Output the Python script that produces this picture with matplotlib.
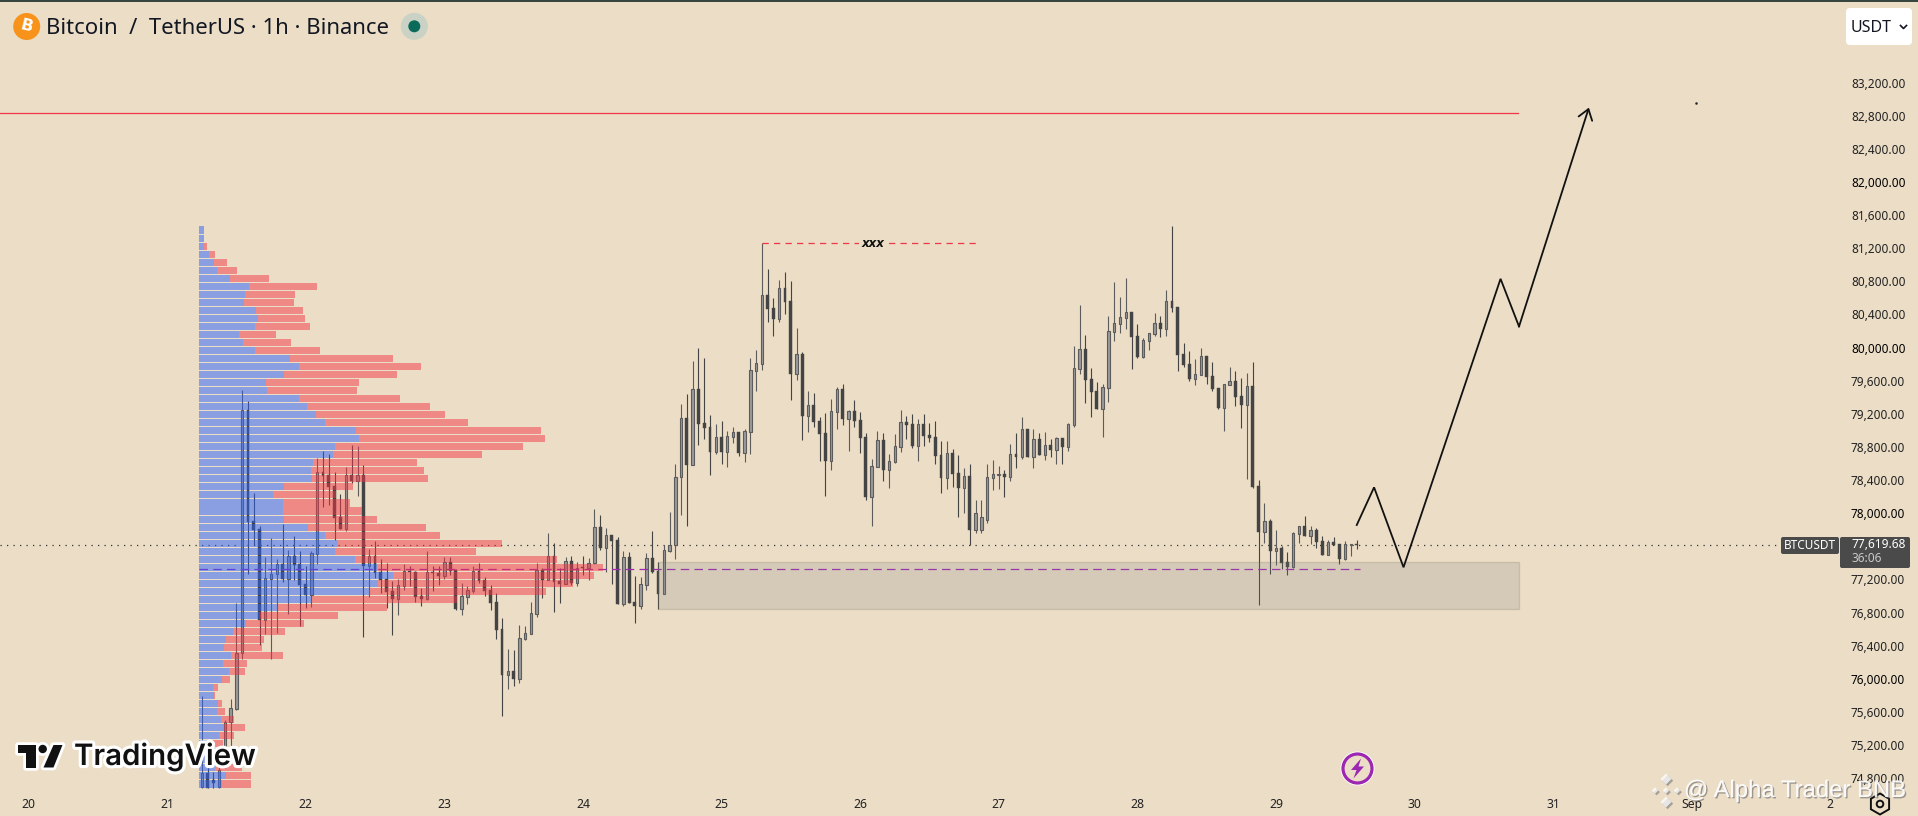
import numpy as np
import matplotlib
matplotlib.use("Agg")
import matplotlib.pyplot as plt
import matplotlib.patheffects as pe
from matplotlib.patches import Circle, Polygon, Rectangle, FancyBboxPatch, RegularPolygon

# ---------- data ----------
first_hour = 30  # hours after Aug 20 00:00
opens = [
74696,74857,74776,74696,74978,75473,75634,76307,79246,77905,
77809,76709,77205,77261,77382,77205,77482,77382,77144,77011,
77507,78497,78461,78328,77950,77809,78461,78389,78461,77366,
77482,77293,77201,77060,76967,77120,77305,77289,76999,76967,
77289,77273,77241,77410,77313,76846,76991,77064,77297,77193,
77072,76927,76601,76049,76089,76000,76484,76544,76786,77317,
77193,77482,77180,77144,77422,77160,77350,77337,77394,77829,
77583,77736,77676,76903,77466,76927,76878,77136,77458,77301,
77023,77543,77611,78433,79146,78582,79496,79085,79037,78739,
78916,78739,78920,78980,78731,78985,79717,79806,80636,80479,
80346,80716,80563,79681,79919,79178,79303,79113,78964,78630,
79226,79496,79138,79230,79121,78916,78199,78562,78880,78525,
78618,78799,79101,79073,78811,79073,78944,78916,78703,78425,
78723,78481,78304,78445,77797,77797,77917,78429,78461,78469,
78441,78715,78683,79013,78678,78896,78703,78823,78767,78904,
78799,79065,79742,79979,79617,79472,79258,79516,80193,80289,
80362,80426,80140,79887,80084,80164,80297,80229,80563,80491,
79923,79802,79621,79673,79899,79657,79512,79274,79552,79593,
79415,79307,79536,78328,77776,77901,77547,77575,77406,77350,
77752,77841,77728,77793,77660,77499,77652,77627,77446,77615,77627]
highs = [
75787,74937,74877,75098,75501,75751,76911,79484,79355,78240,
77849,77474,77696,77442,77869,77555,77724,77543,77362,77547,
78666,78751,78715,78497,78231,78562,78823,78811,78582,77563,
77664,77442,77394,77180,77201,77382,77362,77301,77096,77543,
77362,77362,77474,77474,77321,77152,77120,77362,77394,77225,
77132,77031,76733,76359,76347,76645,76637,76927,77394,77333,
77760,77640,77333,77474,77482,77410,77482,77458,78050,77978,
77821,77736,77712,77543,77531,77241,77229,77519,77784,77410,
77611,78014,78594,79319,79440,79838,79991,79870,79182,79073,
79113,78993,79041,78980,79017,79870,79967,81260,80946,80595,
80817,80913,80805,80237,79943,79476,79452,79162,79210,79379,
79524,79560,79246,79367,79222,78968,78654,78993,78968,78715,
78956,79246,79174,79198,79138,79198,79089,79113,78872,78872,
78775,78703,78546,78594,78159,78159,78594,78642,78570,78521,
78836,78968,79162,79013,79017,78968,78980,78896,78920,78904,
79089,80020,80515,80152,79754,79585,79560,80382,80793,80611,
80841,80426,80285,80116,80173,80418,80382,80696,81469,80491,
80056,79959,79862,79995,79899,79826,79512,79556,79766,79717,
79633,79693,79826,78401,78123,77925,77797,77603,77531,77768,
77841,77966,77845,77817,77724,77672,77712,77627,77664,77627,77676]
lows = [
74680,74680,74680,74680,74917,75159,75622,76238,77261,77615,
76407,76540,76238,76548,77172,76782,77193,76637,76858,76870,
77386,78078,78099,77676,77805,77788,78364,78207,76508,76991,
77221,77040,76858,76528,76770,77072,77120,76927,76878,76951,
77060,77132,77205,77253,76830,76770,76903,77031,77152,76999,
76830,76480,75549,75876,75912,75948,76472,76536,76750,76979,
77193,76806,76915,77144,77132,77120,77253,77193,77386,77555,
77289,77144,76903,76878,76915,76673,76842,77072,77277,76842,
77023,77531,77446,77978,77845,78582,78823,78896,78461,78715,
78594,78558,78848,78691,78618,78715,79476,79730,80309,80140,
80309,80406,79367,79609,78884,78980,79041,78630,78207,78521,
79017,79065,78751,79041,78727,78159,77845,78562,78389,78304,
78606,78739,78896,78787,78630,78811,78860,78594,78244,78292,
78316,77958,77998,77615,77756,77756,77877,78280,78292,78195,
78389,78546,78654,78678,78546,78703,78642,78678,78594,78594,
78751,79041,79681,79331,79162,79258,78920,79343,80080,80177,
80225,79742,79875,79875,79971,80140,80128,80140,80430,79717,
79766,79597,79548,79673,79560,79476,79258,78993,79552,79295,
79029,78413,78304,76890,77635,77265,77374,77321,77253,77342,
77640,77724,77627,77579,77495,77495,77611,77386,77434,77482,77567]
closes = [
74857,74680,74736,74897,75473,75642,76307,79246,77897,77797,
76709,77213,77265,77382,77205,77482,77374,77132,77011,77515,
78497,78449,78316,77946,77809,78461,78389,78461,77366,77482,
77281,77193,77052,76967,77128,77297,77293,76991,76967,77285,
77281,77241,77406,77301,76846,76995,77072,77297,77180,77060,
76919,76588,76045,76089,75996,76488,76548,76790,77309,77193,
77482,77172,77144,77422,77156,77333,77337,77394,77829,77583,
77732,77664,76903,77466,76915,76878,77144,77454,77289,77023,
77551,77611,78433,79146,78582,79496,79077,79029,78739,78916,
78739,78928,78980,78727,78989,79725,79810,80636,80466,80346,
80716,80551,79681,79919,79174,79303,79101,78956,78630,79230,
79496,79138,79230,79113,78908,78195,78566,78880,78521,78626,
78807,79097,79065,78811,79073,78932,78908,78691,78425,78723,
78473,78304,78445,77801,77998,77958,78437,78469,78473,78437,
78711,78678,79013,78678,78892,78703,78823,78763,78904,78799,
79077,79750,79979,79609,79464,79258,79520,80197,80293,80366,
80426,80128,79887,80088,80173,80293,80225,80559,80479,79911,
79790,79621,79677,79895,79645,79500,79270,79556,79593,79403,
79307,79532,78316,77776,77901,77547,77575,77402,77350,77756,
77841,77724,77793,77652,77495,77648,77615,77446,77627,77627,77620]

# volume profile, top row first
vp_high = 81469
vp_low = 74680
vp_up = [15,15,15,30,45,54,93,150,138,135,171,177,169,121,133,169,273,301,255,201,
         205,301,325,351,379,471,481,409,403,343,337,339,255,223,253,253,255,327,379,417,
         409,469,533,583,537,511,339,237,183,141,103,81,75,97,73,91,69,43,46,57,
         55,67,75,61,40,50,40,48,81,69]
vp_down = [0,0,9,18,39,60,117,204,150,150,141,141,164,110,143,194,309,365,339,279,
           269,302,368,387,428,555,557,563,446,311,338,348,207,188,200,236,279,354,344,492,
           422,605,679,602,585,530,434,327,234,174,155,114,114,155,71,47,24,14,2,12,
           23,38,63,44,33,40,35,81,75,87]

last_price = 77619.68
poc_price = 77321
resistance_price = 82840
zone_top = 77410
zone_bottom = 76838
xxx_price = 81259
path_hours = [230.0, 233.0, 238.1, 254.9, 258.1, 270.2]
path_prices = [77857, 78312, 77346, 80831, 80255, 82899]

price_ticks = [83200,82800,82400,82000,81600,81200,80800,80400,80000,79600,79200,78800,78400,78000,
               77200,76800,76400,76000,75600,75200,74800]
major_prices = [82000,80000,78000,76000]
day_hours = [0,24,48,72,96,120,144,168,192,216,240,264,288,312]
day_labels = ["20","21","22","23","24","25","26","27","28","29","30","31","Sep","2"]

# ---------- style ----------
BG = "#EBDDC6"
DARK = "#444444"
HOLLOW_FILL = "#9a9a9a"
HOLLOW_EDGE = "#5c5c5c"
FONT = "Noto Sans"
W, H = 1918, 816

# pixel calibration of the two scales
PX_PER_HOUR = 5.775
X_AT_0 = 28.5
PRICE_PER_PX = 12.08
Y_AT_83200 = 82.7
def hour_at(px): return (px - X_AT_0) / PX_PER_HOUR
def price_at(py): return 83200 - (py - Y_AT_83200) * PRICE_PER_PX

fig = plt.figure(figsize=(W / 100, H / 100), dpi=100, facecolor=BG)
AX_R, AX_B, AX_T = 1845, 790, 3
ax = fig.add_axes([0, (H - AX_B) / H, AX_R / W, (AX_B - AX_T) / H], facecolor=BG)
ax.set_xlim(hour_at(0), hour_at(AX_R))
ax.set_ylim(price_at(AX_B), price_at(AX_T))
for s in ax.spines.values():
    s.set_visible(False)

# candles
hours = np.arange(first_hour, first_hour + len(opens))
o, h_, l, c = map(np.array, (opens, highs, lows, closes))
up = c >= o
ax.vlines(hours[up], l[up], h_[up], color=HOLLOW_EDGE, lw=0.8, zorder=2)
ax.vlines(hours[~up], l[~up], h_[~up], color=DARK, lw=0.8, zorder=2)
ax.bar(hours[up], (c - o)[up], bottom=o[up], width=0.42, color=HOLLOW_FILL,
       edgecolor=HOLLOW_EDGE, linewidth=0.8, zorder=2.1)
ax.bar(hours[~up], (c - o)[~up], bottom=o[~up], width=0.5, color=DARK,
       edgecolor=DARK, linewidth=0.3, zorder=2.1)

# zone, lines
ax.add_patch(Rectangle((hour_at(658.3), zone_bottom), hour_at(1519) - hour_at(658.3), zone_top - zone_bottom,
                       facecolor="#808080", alpha=0.2, edgecolor="#6a6a50", linewidth=1.0, zorder=3))
ax.plot([hour_at(0), hour_at(1518)], [resistance_price] * 2, color="#F23645", lw=0.9, zorder=1)
ax.plot([hour_at(0), hour_at(AX_R)], [last_price] * 2, color="#333333", lw=0.9,
        dashes=(1, 4.2), zorder=1.5)
ax.plot([hour_at(199), hour_at(1360)], [poc_price] * 2, color="#9C27B0", lw=0.9,
        dashes=(6.8, 4.2), zorder=2.5)
ax.plot([127, hour_at(976)], [xxx_price] * 2, color="#F23645", lw=0.9, dashes=(5, 4.2), zorder=2)
ax.text(146.2, xxx_price, "xxx", ha="center", va="center", fontsize=8.6, style="italic", weight="bold",
        color="#111111", family="DejaVu Sans", zorder=4,
        bbox=dict(facecolor=BG, edgecolor="none", pad=1.5))

# volume profile
edges = np.linspace(vp_high, vp_low, len(vp_up) + 1)
centers = (edges[:-1] + edges[1:]) / 2
row_h = (vp_high - vp_low) / len(vp_up) * 0.88
vol_scale = 1 / (3 * PX_PER_HOUR)
vp_left = hour_at(199)
ub, db = np.array(vp_up) * vol_scale, np.array(vp_down) * vol_scale
ax.barh(centers, ub, height=row_h, left=vp_left, color="#2962FF", alpha=0.5, linewidth=0, zorder=5)
ax.barh(centers, db, height=row_h, left=vp_left + ub, color="#F23645", alpha=0.5, linewidth=0, zorder=5)

# forecast path
ax.plot(path_hours[:-1], path_prices[:-1], color="#111111", lw=1.3, zorder=6, solid_joinstyle="miter")
ax.annotate("", xy=(path_hours[-1], path_prices[-1]), xytext=(path_hours[-2], path_prices[-2]),
            arrowprops=dict(arrowstyle="->,head_length=0.45,head_width=0.32", color="#111111", lw=1.3,
                            mutation_scale=16, shrinkA=0, shrinkB=0), zorder=6)
ax.plot([hour_at(1696)], [price_at(103)], marker="o", ms=0.8, color="#222222", zorder=6)

# axes ticks
ax.yaxis.tick_right()
ax.set_yticks(price_ticks)
ax.set_yticklabels([f"{p:,.2f}" for p in price_ticks], fontname=FONT, fontsize=8.5, color="#222222")
ax.set_xticks(day_hours)
ax.set_xticklabels(day_labels, fontname=FONT, fontsize=8.8, color="#222222")
ax.tick_params(axis="both", length=0)
ax.tick_params(axis="y", pad=4.3)
ax.tick_params(axis="x", pad=6.0)
for lbl, p in zip(ax.get_yticklabels(), price_ticks):
    if p in major_prices:
        lbl.set_fontweight("medium")
        lbl.set_color("#000000")
ax.get_xticklabels()[day_labels.index("Sep")].set_fontweight("bold")

# ---------- pixel overlay: header, badges, logos ----------
ov = fig.add_axes([0, 0, 1, 1], facecolor="none", zorder=10)
ov.set_xlim(0, W)
ov.set_ylim(H, 0)
ov.axis("off")

ov.add_patch(Rectangle((0, 0), W, 2.2, facecolor="#37463F", edgecolor="none"))
ov.add_patch(Circle((26.7, 26.5), 13.5, facecolor="#F7931A", edgecolor="none"))
ov.text(26.7, 26.5, "B", color="white", fontsize=11.5, weight="bold", rotation=-14,
        ha="center", va="center", family="DejaVu Sans")
ov.text(46, 28.5, "Bitcoin  /  TetherUS · 1h · Binance", fontname=FONT, fontsize=15.9,
        color="#131722", ha="left", va="center")
ov.add_patch(Circle((414.3, 26.3), 13.5, facecolor="#C9D2C5", edgecolor="none"))
ov.add_patch(Circle((414.3, 26.3), 6, facecolor="#0B6B5A", edgecolor="none"))

ov.add_patch(FancyBboxPatch((1848, 10), 62, 33, boxstyle="round,pad=2,rounding_size=4",
                            facecolor="white", edgecolor="none"))
ov.text(1851, 27.5, "USDT", fontname=FONT, fontsize=11.5, color="#131722", ha="left", va="center")
ov.plot([1900.5, 1903.5, 1906.5], [25.5, 28.5, 25.5], color="#131722", lw=1.2)

ov.add_patch(FancyBboxPatch((1783, 539), 54, 13, boxstyle="round,pad=2,rounding_size=2",
                            facecolor="#4A4A4A", edgecolor="none"))
ov.text(1810, 545.5, "BTCUSDT", fontname=FONT, fontsize=8.5, color="white", ha="center", va="center", weight="bold")
ov.add_patch(FancyBboxPatch((1842, 539), 66, 27, boxstyle="round,pad=2,rounding_size=2",
                            facecolor="#4A4A4A", edgecolor="none"))
ov.text(1851, 545, "77,619.68", fontname=FONT, fontsize=8.6, color="white", ha="left", va="center", weight="bold")
ov.text(1851, 558.5, "36:06", fontname=FONT, fontsize=8.6, color="#C9C9C9", ha="left", va="center")

# TradingView mark
halo = [pe.withStroke(linewidth=4.5, foreground="white")]
ov.text(74, 757, "TradingView", family="Inter", weight="semibold", fontsize=21.2, color="#111111",
        ha="left", va="center", path_effects=halo)
for patch in (
    Polygon([(17.5, 745), (36, 745), (36, 767.5), (26, 767.5), (26, 752.5), (17.5, 752.5)]),
    Circle((42.7, 749), 4.2),
    Polygon([(53.5, 745), (62.5, 745), (53.5, 767.5), (43.5, 767.5)]),
):
    patch.set(facecolor="#111111", edgecolor="white", linewidth=4, joinstyle="round")
    ov.add_patch(patch)
for patch in (
    Polygon([(17.5, 745), (36, 745), (36, 767.5), (26, 767.5), (26, 752.5), (17.5, 752.5)]),
    Circle((42.7, 749), 4.2),
    Polygon([(53.5, 745), (62.5, 745), (53.5, 767.5), (43.5, 767.5)]),
):
    patch.set(facecolor="#111111", edgecolor="none")
    ov.add_patch(patch)

# purple bolt badge
ov.add_patch(Circle((1357.5, 768.5), 17, facecolor="white", edgecolor="none"))
ov.add_patch(Circle((1357.5, 768.5), 14.5, facecolor=BG, edgecolor="#9C27B0", linewidth=2.3))
ov.add_patch(Polygon([(1361, 758.5), (1351, 770), (1356.5, 770), (1353.5, 778.5), (1364, 766.5), (1358.5, 766.5)],
                     facecolor="#9C27B0", edgecolor="none"))

# watermark
wm = [pe.withSimplePatchShadow(offset=(1.2, -1.2), shadow_rgbFace="#777777", alpha=0.6)]
for cx, cy, r in [(1666, 779, 5.5), (1655, 790.5, 3.2), (1677, 790.5, 3.2), (1666, 790.5, 3.2), (1666, 802, 5.5)]:
    p = RegularPolygon((cx, cy), 4, radius=r, facecolor="white", edgecolor="none", alpha=0.75)
    p.set_path_effects(wm)
    ov.add_patch(p)
ov.text(1684, 791, "@ Alpha Trader BNB", family="Liberation Sans", fontsize=17.2, color="white", alpha=0.7,
        ha="left", va="center", path_effects=[pe.withSimplePatchShadow(offset=(1, -1), shadow_rgbFace="#666666", alpha=0.6), pe.Normal()])

# settings icon
ov.add_patch(RegularPolygon((1880, 804), 6, radius=10.5, orientation=0, facecolor="none", edgecolor="#111111", linewidth=1.4))
ov.add_patch(Circle((1880, 804), 3.3, facecolor="none", edgecolor="#111111", linewidth=1.4))

fig.savefig("out.png", dpi=100, facecolor=BG)
